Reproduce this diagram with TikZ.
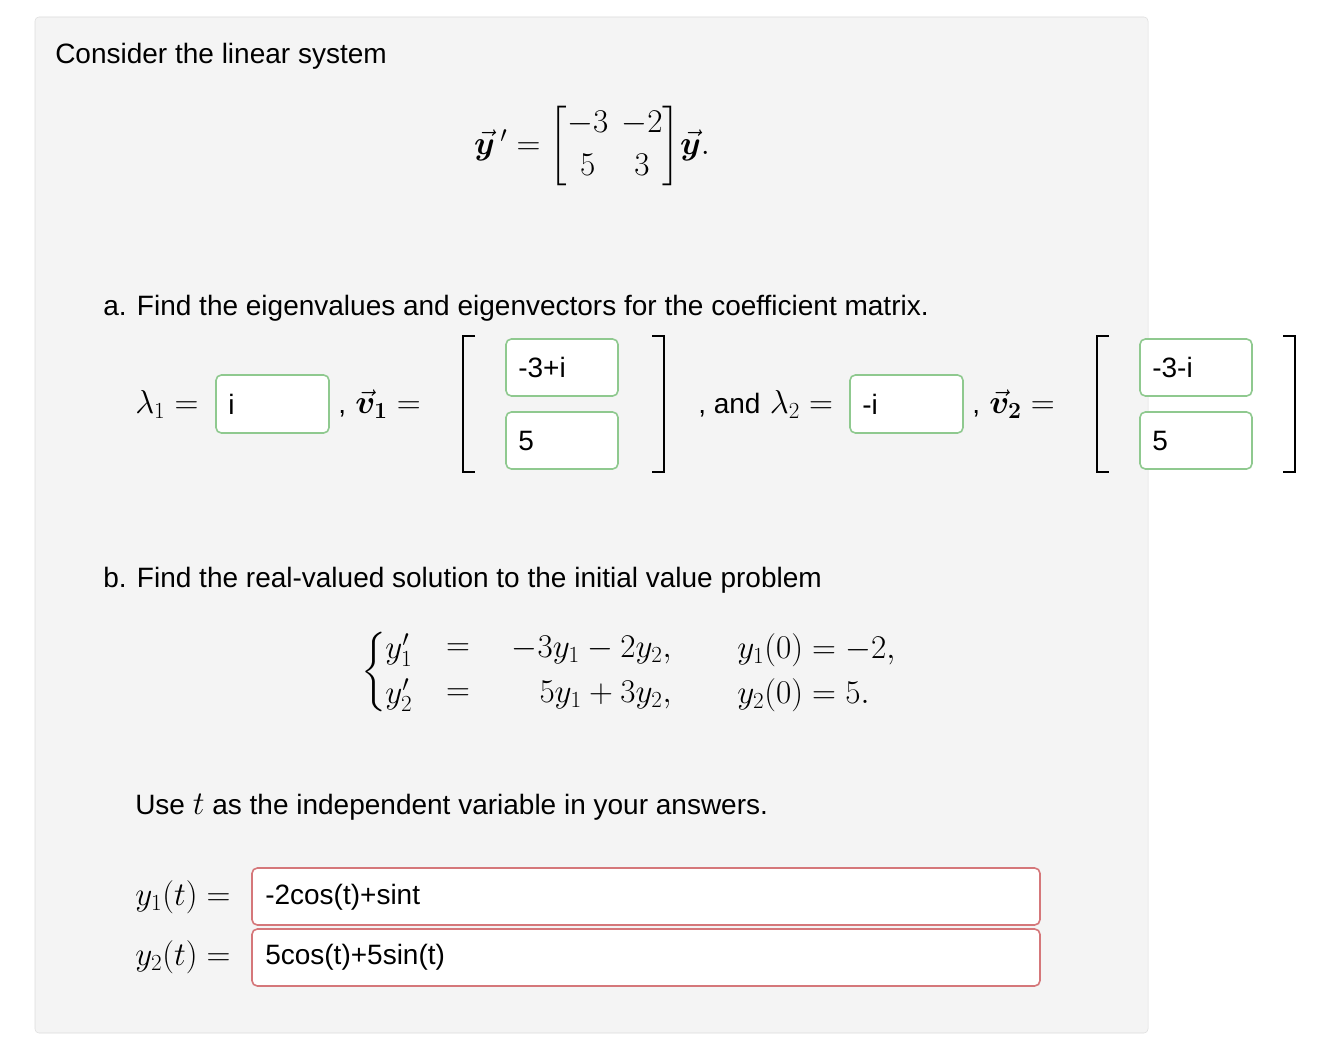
\documentclass[tikz,border=0pt]{standalone}
\usepackage{amsmath,bm}
\usepackage[no-math]{fontspec}
\setmainfont{Liberation Sans}
\definecolor{panel}{HTML}{F4F4F4}
\definecolor{pborder}{HTML}{DDDDDD}
\definecolor{okb}{HTML}{8FC98F}
\definecolor{badb}{HTML}{D5777A}
\tikzset{
 txt/.style={anchor=west,inner sep=0pt,font=\fontsize{21}{25}\selectfont},
 mth/.style={inner sep=0pt,font=\fontsize{25}{30}\selectfont},
 okbox/.style={draw=okb,line width=1.2pt,fill=white,rounded corners=4pt},
 badbox/.style={draw=badb,line width=1.2pt,fill=white,rounded corners=4pt},
 ans/.style={anchor=west,inner sep=0pt,font=\fontsize{21}{25}\selectfont},
 brk/.style={line width=1.5pt}
}
\begin{document}
\begin{tikzpicture}[x=0.75pt,y=-0.75pt]
\useasboundingbox (0,0) rectangle (1330,1044);
\fill[white] (0,0) rectangle (1330,1044);
\draw[pborder,fill=panel,rounded corners=3pt] (35,17) rectangle (1148,1033);
\node[txt] (t1) at (55,56) {Consider the linear system};
\node[mth] (eq) at (592,146) {$\vec{\bm{y}}\,{}' = \begin{bmatrix}-3 & -2\\[2pt] 5 & 3\end{bmatrix}\!\vec{\bm{y}}.$};
\node[txt] (ta) at (103,308) {a. Find the eigenvalues and eigenvectors for the coefficient matrix.};
% lambda1
\node[mth,anchor=west] (l1) at (135,404) {$\lambda_1 =$};
\draw[okbox] (216,375) rectangle (329,433);
\node[ans] (a1) at (228,404) {i};
\node[mth,anchor=west] (v1) at (338,404) {{\fontsize{21}{25}\selectfont ,} $\vec{\bm{v}}_{\bm 1} =$};
\draw[brk] (475,336) -- (463,336) -- (463,472) -- (475,472);
\draw[brk] (652,336) -- (664,336) -- (664,472) -- (652,472);
\draw[okbox] (506,339) rectangle (618,396);
\node[ans] (a2) at (518,367) {-3+i};
\draw[okbox] (506,412) rectangle (618,469);
\node[ans] (a3) at (518,441) {5};
\node[mth,anchor=west] (l2) at (698,404) {{\fontsize{21}{25}\selectfont , and} $\lambda_2 =$};
\draw[okbox] (850,375) rectangle (963,433);
\node[ans] (a4) at (862,404) {-i};
\node[mth,anchor=west] (v2) at (972,404) {{\fontsize{21}{25}\selectfont ,} $\vec{\bm{v}}_{\bm 2} =$};
\draw[brk] (1109,336) -- (1097,336) -- (1097,472) -- (1109,472);
\draw[brk] (1283,336) -- (1295,336) -- (1295,472) -- (1283,472);
\draw[okbox] (1140,339) rectangle (1252,396);
\node[ans] (a5) at (1152,367) {-3-i};
\draw[okbox] (1140,412) rectangle (1252,469);
\node[ans] (a6) at (1152,441) {5};
% part b
\node[txt] (tb) at (103,580) {b. Find the real-valued solution to the initial value problem};
\node[mth] (br) at (375,672) {$\left\{\vphantom{\begin{matrix}y\\[-4pt]y\end{matrix}}\right.$};
\node[mth,anchor=west] (r1a) at (385,650) {$y_1'$};
\node[mth,anchor=west] (r2a) at (385,695) {$y_2'$};
\node[mth] (r1b) at (458,650) {$=$};
\node[mth] (r2b) at (458,695) {$=$};
\node[mth,anchor=east] (r1c) at (672,650) {$-3y_1-2y_2,$};
\node[mth,anchor=east] (r2c) at (672,695) {$5y_1+3y_2,$};
\node[mth,anchor=west] (r1d) at (737,650) {$y_1(0)=-2,$};
\node[mth,anchor=west] (r2d) at (737,695) {$y_2(0)=5.$};
\node[txt] (tu) at (135,807) {Use {\fontsize{25}{30}\selectfont$t$} as the independent variable in your answers.};
\node[mth,anchor=west] (y1) at (135,897) {$y_1(t) =$};
\draw[badbox] (252,868) rectangle (1040,925);
\node[ans] (b1) at (265,897) {-2cos(t)+sint};
\node[mth,anchor=west] (y2) at (135,957) {$y_2(t) =$};
\draw[badbox] (252,929) rectangle (1040,986);
\node[ans] (b2) at (265,957) {5cos(t)+5sin(t)};
\end{tikzpicture}
\end{document}
